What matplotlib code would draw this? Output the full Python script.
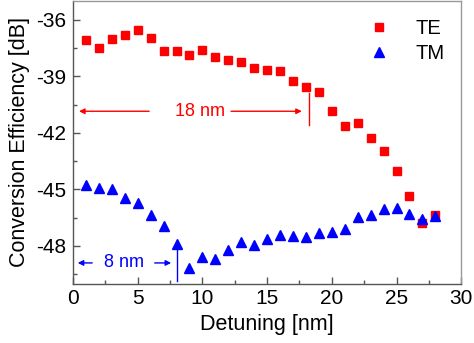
import matplotlib
matplotlib.use('Agg')
import matplotlib.pyplot as plt

plt.rcParams['font.family'] = ['Liberation Sans', 'DejaVu Sans']
plt.rcParams['axes.unicode_minus'] = False

# --- data ---
detuning = list(range(1, 29))
te_db = [-37.06, -37.5, -37.03, -36.78, -36.53, -36.96, -37.66, -37.63, -37.84, -37.61,
         -37.96, -38.14, -38.23, -38.58, -38.64, -38.73, -39.26, -39.56, -39.82, -40.85,
         -41.63, -41.49, -42.27, -42.96, -44.0, -45.33, -46.76, -46.34]
tm_db = [-44.75, -44.93, -45.0, -45.46, -45.71, -46.34, -46.92, -47.91, -49.18, -48.58,
         -48.67, -48.19, -47.79, -47.93, -47.61, -47.40, -47.47, -47.54, -47.33, -47.26,
         -47.1, -46.48, -46.36, -46.04, -45.97, -46.3, -46.55, -46.43]
x_ticks = [0, 5, 10, 15, 20, 25, 30]
y_ticks = [-36, -39, -42, -45, -48]

RED = '#ff0000'
BLUE = '#0000ff'
AXIS = '#555555'

fig = plt.figure(figsize=(4.74, 3.43), dpi=100)
ax = fig.add_axes([0.154, 0.173, 0.819, 0.824])

ax.plot(detuning, te_db, 's', color=RED, ms=5.2, mec=RED, label='TE', zorder=3)
ax.plot(detuning, tm_db, '^', color=BLUE, ms=6.8, mec=BLUE, label='TM', zorder=3)

ax.set_xlim(0, 30)
ax.set_ylim(-50, -35)
ax.set_xticks(x_ticks)
ax.set_xticks([2.5, 7.5, 12.5, 17.5, 22.5, 27.5], minor=True)
ax.set_yticks(y_ticks)
ax.set_yticks([-37.5, -40.5, -43.5, -46.5, -49.5], minor=True)
ax.tick_params(which='major', direction='in', length=5, width=1, color=AXIS,
               labelsize=15, pad=4)
ax.tick_params(axis='y', which='major', pad=5)
ax.tick_params(which='minor', direction='in', length=3, width=1, color=AXIS)
ax.tick_params(top=False, right=False, which='both')

for side in ['left', 'bottom']:
    ax.spines[side].set_color(AXIS)
    ax.spines[side].set_linewidth(1)
for side in ['top', 'right']:
    ax.spines[side].set_color('#999999')
    ax.spines[side].set_linewidth(1)

ax.set_xlabel('Detuning [nm]', fontsize=15.5, labelpad=4)
ax.set_ylabel('Conversion Efficiency [dB]', fontsize=15.5, labelpad=4)

# 18 nm bracket (TE)
ax.annotate('', xy=(0.25, -40.85), xytext=(6.1, -40.85),
            arrowprops=dict(arrowstyle='-|>', color=RED, lw=1, mutation_scale=8))
ax.annotate('', xy=(17.9, -40.85), xytext=(12.0, -40.85),
            arrowprops=dict(arrowstyle='-|>', color=RED, lw=1, mutation_scale=8))
ax.text(9.8, -40.85, '18 nm', color=RED, fontsize=13, ha='center', va='center')
ax.plot([18.2, 18.2], [-39.9, -41.6], color=RED, lw=1)

# 8 nm bracket (TM)
ax.annotate('', xy=(0.15, -48.9), xytext=(1.7, -48.9),
            arrowprops=dict(arrowstyle='-|>', color=BLUE, lw=1, mutation_scale=8))
ax.annotate('', xy=(7.8, -48.9), xytext=(6.1, -48.9),
            arrowprops=dict(arrowstyle='-|>', color=BLUE, lw=1, mutation_scale=8))
ax.text(3.95, -48.9, '8 nm', color=BLUE, fontsize=13, ha='center', va='center')
ax.plot([8.07, 8.07], [-48.05, -49.85], color=BLUE, lw=1)

ax.legend(loc='upper right', frameon=False, fontsize=14.5, handletextpad=1.15,
          handlelength=1.4, borderaxespad=0.4, labelspacing=0.3,
          bbox_to_anchor=(1.0, 0.995))

fig.savefig('out.png', dpi=100)
